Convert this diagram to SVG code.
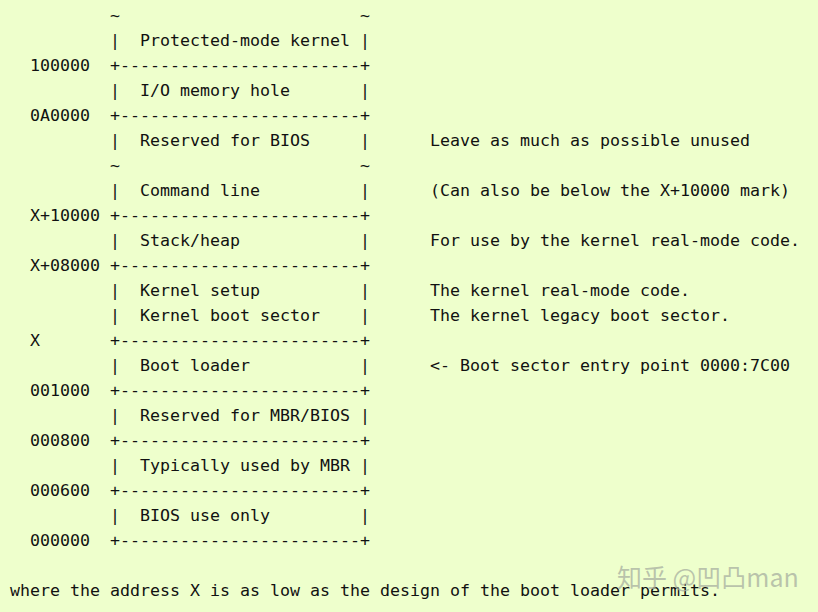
<svg xmlns="http://www.w3.org/2000/svg" width="818" height="612" viewBox="0 0 818 612">
<style>
.t{font-family:"DejaVu Sans Mono","Liberation Mono",monospace;font-size:16.61px;fill:#111}
.wm{font-family:"Noto Sans CJK SC","Noto Sans",sans-serif;font-size:25px;fill:#a8b0a0;fill-opacity:0.75}
</style>
<rect width="818" height="612" fill="#eeffcc"/>
<g id="frame" class="t">
<text x="110" y="21">~</text><text x="360" y="21">~</text>
<text x="110" y="171">~</text><text x="360" y="171">~</text>
<text x="110" y="46">|</text><text x="360" y="46">|</text>
<text x="110" y="96">|</text><text x="360" y="96">|</text>
<text x="110" y="146">|</text><text x="360" y="146">|</text>
<text x="110" y="196">|</text><text x="360" y="196">|</text>
<text x="110" y="246">|</text><text x="360" y="246">|</text>
<text x="110" y="296">|</text><text x="360" y="296">|</text>
<text x="110" y="321">|</text><text x="360" y="321">|</text>
<text x="110" y="371">|</text><text x="360" y="371">|</text>
<text x="110" y="421">|</text><text x="360" y="421">|</text>
<text x="110" y="471">|</text><text x="360" y="471">|</text>
<text x="110" y="521">|</text><text x="360" y="521">|</text>
<text x="110" y="71">+------------------------+</text>
<text x="110" y="121">+------------------------+</text>
<text x="110" y="221">+------------------------+</text>
<text x="110" y="271">+------------------------+</text>
<text x="110" y="346">+------------------------+</text>
<text x="110" y="396">+------------------------+</text>
<text x="110" y="446">+------------------------+</text>
<text x="110" y="496">+------------------------+</text>
<text x="110" y="546">+------------------------+</text>
</g>
<g id="addresses" class="t">
<text x="30" y="71">100000</text>
<text x="30" y="121">0A0000</text>
<text x="30" y="221">X+10000</text>
<text x="30" y="271">X+08000</text>
<text x="30" y="346">X</text>
<text x="30" y="396">001000</text>
<text x="30" y="446">000800</text>
<text x="30" y="496">000600</text>
<text x="30" y="546">000000</text>
</g>
<g id="regions" class="t">
<text x="140" y="46">Protected-mode kernel</text>
<text x="140" y="96">I/O memory hole</text>
<text x="140" y="146">Reserved for BIOS</text>
<text x="140" y="196">Command line</text>
<text x="140" y="246">Stack/heap</text>
<text x="140" y="296">Kernel setup</text>
<text x="140" y="321">Kernel boot sector</text>
<text x="140" y="371">Boot loader</text>
<text x="140" y="421">Reserved for MBR/BIOS</text>
<text x="140" y="471">Typically used by MBR</text>
<text x="140" y="521">BIOS use only</text>
</g>
<g id="comments" class="t">
<text x="430" y="146">Leave as much as possible unused</text>
<text x="430" y="196">(Can also be below the X+10000 mark)</text>
<text x="430" y="246">For use by the kernel real-mode code.</text>
<text x="430" y="296">The kernel real-mode code.</text>
<text x="430" y="321">The kernel legacy boot sector.</text>
<text x="430" y="371">&lt;- Boot sector entry point 0000:7C00</text>
</g>
<text class="t" x="10" y="596">where the address X is as low as the design of the boot loader permits.</text>
<text class="wm" x="617" y="587">知乎 @凹凸man</text>
</svg>
